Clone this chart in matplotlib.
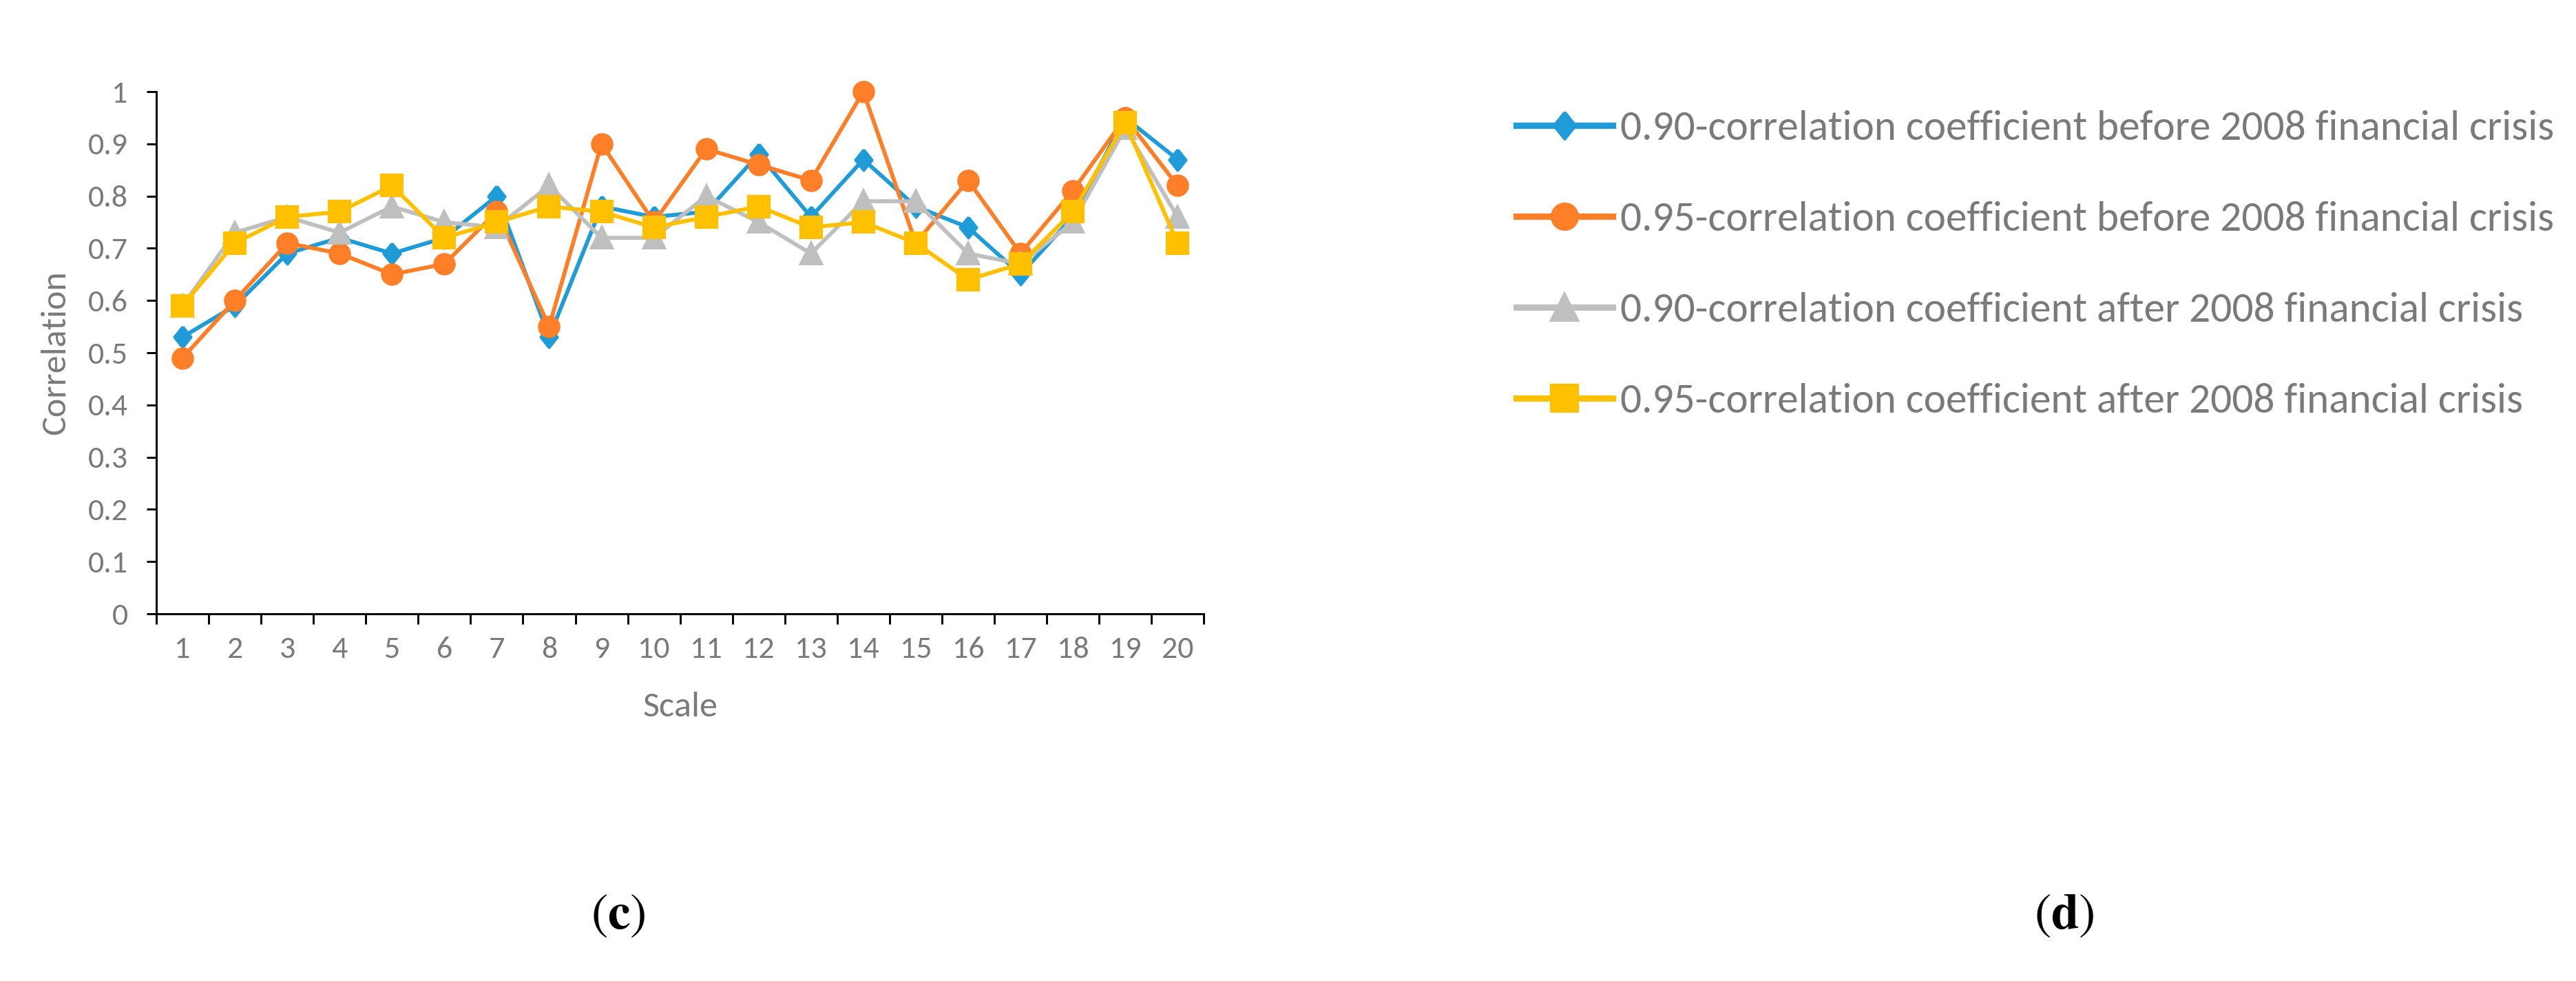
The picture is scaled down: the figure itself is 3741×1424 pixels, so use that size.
import matplotlib
matplotlib.use('Agg')
import matplotlib.pyplot as plt
from matplotlib import font_manager

scales = list(range(1, 21))
before_090 = [0.53, 0.59, 0.69, 0.72, 0.69, 0.72, 0.80, 0.53, 0.78, 0.76,
              0.77, 0.88, 0.76, 0.87, 0.78, 0.74, 0.65, 0.76, 0.95, 0.87]
before_095 = [0.49, 0.60, 0.71, 0.69, 0.65, 0.67, 0.77, 0.55, 0.90, 0.75,
              0.89, 0.86, 0.83, 1.00, 0.71, 0.83, 0.69, 0.81, 0.95, 0.82]
after_090 = [0.59, 0.73, 0.76, 0.73, 0.78, 0.75, 0.74, 0.82, 0.72, 0.72,
             0.80, 0.75, 0.69, 0.79, 0.79, 0.69, 0.67, 0.75, 0.93, 0.76]
after_095 = [0.59, 0.71, 0.76, 0.77, 0.82, 0.72, 0.75, 0.78, 0.77, 0.74,
             0.76, 0.78, 0.74, 0.75, 0.71, 0.64, 0.67, 0.77, 0.94, 0.71]

labels = ['0.90-correlation coefficient before 2008 financial crisis',
          '0.95-correlation coefficient before 2008 financial crisis',
          '0.90-correlation coefficient after 2008 financial crisis',
          '0.95-correlation coefficient after 2008 financial crisis']
y_ticks = [0, 0.1, 0.2, 0.3, 0.4, 0.5, 0.6, 0.7, 0.8, 0.9, 1]
y_tick_labels = ['0', '0.1', '0.2', '0.3', '0.4', '0.5', '0.6', '0.7', '0.8', '0.9', '1']

# narrow sans to stand in for Calibri
installed = {f.name for f in font_manager.fontManager.ttflist}
font = 'DejaVu Sans'
for name in ['Carlito', 'Liberation Sans Narrow', 'Roboto']:
    if name in installed:
        font = name
        break
plt.rcParams['font.family'] = [font, 'DejaVu Sans']
plt.rcParams['mathtext.fontset'] = 'stix'

text_gray = '#7a7a7a'
diamond = [(0, 1), (0.8, 0), (0, -1), (-0.8, 0), (0, 1)]

fig = plt.figure(figsize=(12.47, 4.7467), dpi=300)
ax = fig.add_axes([0.0607, 0.3743, 0.4066, 0.5323])

series = [
    (before_090, '#1f9bd7', diamond, 7.2),
    (before_095, '#fe7f27', 'o', 6.8),
    (after_090, '#bfbfbf', '^', 7.0),
    (after_095, '#ffc000', 's', 7.0),
]
for (vals, color, marker, ms), label in zip(series, labels):
    ax.plot(scales, vals, color=color, marker=marker, markersize=ms,
            linewidth=1.4, label=label, clip_on=False)

ax.set_xlim(0.5, 20.5)
ax.set_ylim(0, 1)
ax.spines['top'].set_visible(False)
ax.spines['right'].set_visible(False)
for side in ['left', 'bottom']:
    ax.spines[side].set_linewidth(0.7)
    ax.spines[side].set_color('black')

ax.set_xticks([s - 0.5 for s in scales] + [20.5])
ax.set_xticklabels([])
ax.set_xticks(scales, minor=True)
ax.set_xticklabels([str(s) for s in scales], minor=True)
ax.tick_params(axis='x', which='major', direction='out', length=3.5, width=0.7)
ax.tick_params(axis='x', which='minor', length=0, pad=8, labelsize=11, labelcolor=text_gray)

ax.set_yticks(y_ticks)
ax.set_yticklabels(y_tick_labels)
ax.tick_params(axis='y', direction='out', length=3.4, width=0.7, pad=6.5,
               labelsize=11, labelcolor=text_gray)

ax.set_xlabel('Scale', fontsize=12.5, color=text_gray, labelpad=10)
ax.set_ylabel('Correlation', fontsize=12.5, color=text_gray, labelpad=6)

leg = fig.legend(loc='upper left', bbox_to_anchor=(0.5803, 0.909), frameon=False,
                 fontsize=14.7, handlelength=2.3, handletextpad=0.18,
                 labelspacing=1.29, borderpad=0, markerscale=1.3)
for text in leg.get_texts():
    text.set_color(text_gray)
for line in leg.get_lines():
    line.set_linewidth(2.2)

fig.text(0.240, 0.066, r'$(\mathbf{c})$', fontsize=17.5, ha='center', va='center')
fig.text(0.8014, 0.066, r'$(\mathbf{d})$', fontsize=17.5, ha='center', va='center')

fig.savefig('out.png', dpi=300, facecolor='white')
